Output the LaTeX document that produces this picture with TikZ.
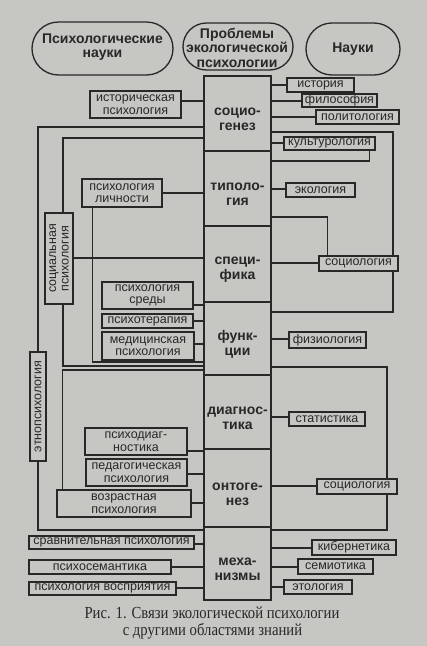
\documentclass[tikz,border=0pt]{standalone}
\usepackage{fontspec}
\setmainfont{Liberation Sans}
\newfontfamily\capfont{Liberation Serif}
\usetikzlibrary{shapes.misc}
\definecolor{paper}{RGB}{198,198,195}
\definecolor{ink}{RGB}{40,40,40}
\pgfdeclarelayer{bg}\pgfdeclarelayer{wires}
\pgfsetlayers{bg,wires,main}
\tikzset{
  box/.style={draw=ink,fill=paper,line width=1.1pt,inner sep=0pt,align=center,text=ink,
    font=\fontsize{12.5}{12.5}\selectfont},
  secbox/.style={draw=ink,fill=paper,line width=1.3pt,inner sep=0pt},
  sectext/.style={text=ink,align=center,font=\bfseries\fontsize{14}{15}\selectfont},
  stadium/.style={draw=ink,line width=1.3pt,rounded rectangle,inner sep=0pt,align=center,
    text=ink,font=\bfseries\fontsize{14}{14.5}\selectfont},
  stadtext/.style={inner sep=0pt,align=center,text=ink,font=\bfseries\fontsize{14}{14.5}\selectfont},
  wire/.style={draw=ink,line width=1.1pt},
  captext/.style={text=ink,inner sep=0pt,anchor=base,yscale=1.15,transform shape,
    font=\capfont\fontsize{14.7}{14.7}\selectfont},
}
\newcommand\bx[6]{\node[box,minimum width={#4pt-#2pt},minimum height={#5pt-#3pt}] (#1) at ({(#2+#4)/2},{(#3+#5)/2}) {#6};}
\newcommand\sect[4]{\node[secbox,minimum width=67pt,minimum height={#3pt-#2pt}] (#1) at (237.5,{(#2+#3)/2}) {};
  \node[sectext] (#1t) at ([yshift=-6pt]#1.center) {#4};}
\newcommand\lft[3]{\draw[wire] (#1.east |- 0,#3) -- (#2.west |- 0,#3);}
\newcommand\rgt[3]{\draw[wire] (#1.east |- 0,#3) -- (#2.west |- 0,#3);}
\begin{document}
\begin{tikzpicture}[x=1pt,y=-1pt]
\begin{pgfonlayer}{bg}
\fill[paper] (0,0) rectangle (427,646);
\end{pgfonlayer}
\useasboundingbox (0,0) rectangle (427,646);

% headers
\node[stadium,minimum width=141pt,minimum height=53pt] (hpsy) at (102.5,48.5) {};
\node[stadtext] (hpsyt) at (102.5,47) {Психологические\\науки};
\node[stadium,minimum width=110pt,minimum height=47pt] (hprob) at (238,46.5) {};
\node[stadtext] (hprobt) at (237,47.5) {Проблемы\\экологической\\психологии};
\node[stadium,minimum width=94pt,minimum height=52pt] (hsci) at (353,49) {};
\node[stadtext] (hscit) at (353,49) {Науки};

% central column
\sect{s1}{76}{151}{социо-\\генез}
\sect{s2}{151}{226}{типоло-\\гия}
\sect{s3}{226}{302}{специ-\\фика}
\sect{s4}{302}{375}{функ-\\ции}
\sect{s5}{375}{449}{диагнос-\\тика}
\sect{s6}{449}{527}{онтоге-\\нез}
\sect{s7}{527}{600}{меха-\\низмы}

% right boxes
\bx{istoria}{287}{78}{354}{92}{история}
\bx{filos}{302}{94}{377}{107}{философия}
\bx{polit}{316}{110}{399}{124}{политология}
\bx{kult}{284}{137}{375}{150}{культурология}
\bx{ekol}{286}{183}{355}{197}{экология}
\bx{soctwo}{319}{256}{398}{271}{социология}
\bx{fiziol}{289}{332}{366}{348}{физиология}
\bx{stat}{289}{412}{365}{426}{статистика}
\bx{socthree}{317}{479}{397}{494}{социология}
\bx{kib}{312}{540}{396}{555}{кибернетика}
\bx{semi}{298}{559}{373}{574}{семиотика}
\bx{etol}{284}{580}{352}{594}{этология}

% left boxes
\bx{hist}{90}{91}{181}{118}{историческая\\психология}
\bx{lich}{82}{179}{162}{207}{психология\\личности}
\bx{socps}{45}{213}{73}{304}{}
\node[rotate=90,align=center,text=ink,font=\fontsize{12.5}{12.5}\selectfont] (socpst) at (socps.center) {социальная\\психология};
\bx{ethno}{30}{352}{46}{461}{}
\node[rotate=90,text=ink,font=\fontsize{12.5}{12.5}\selectfont] (ethnot) at (ethno.center) {этнопсихология};
\bx{sreda}{102}{282}{193}{309}{психология\\среды}
\bx{psyter}{102}{314}{193}{328}{психотерапия}
\bx{medic}{102}{332}{194}{360}{медицинская\\психология}
\bx{psdiag}{85}{428}{187}{455}{психодиаг-\\ностика}
\bx{pedag}{86}{459}{187}{486}{педагогическая\\психология}
\bx{vozr}{57}{490}{191}{517}{возрастная\\психология}
\bx{srav}{29}{536}{194}{549}{сравнительная психология}
\bx{psem}{29}{560}{171}{574}{психосемантика}
\bx{vospr}{29}{582}{176}{595}{психология восприятия}

\begin{pgfonlayer}{wires}
% right connectors
\rgt{s1}{istoria}{85}
\rgt{s1}{filos}{101}
\rgt{s1}{polit}{117}
\rgt{s1}{kult}{143}
\draw[wire] ([xshift=-6pt]kult.south east) |- (s2.east |- 0,161);
\rgt{s2}{ekol}{189}
\draw[wire] (s2.east |- 0,217) -| ([xshift=9pt]soctwo.north west);
\rgt{s3}{soctwo}{263}
\draw[wire] (s1.east |- 0,132) -- (393,132) -- (393,312) -- (s4.east |- 0,312);
\rgt{s4}{fiziol}{339}
\draw[wire] (s4.east |- 0,367) -- (387,367) -- (387,530) -- (s7.east |- 0,530);
\rgt{s5}{stat}{417}
\rgt{s6}{socthree}{486}
\rgt{s7}{kib}{548}
\rgt{s7}{semi}{567}
\rgt{s7}{etol}{587}
% left connectors
\lft{hist}{s1}{101}
\draw[wire] (s1.west |- 0,127) -| (ethno.north);
\draw[wire] (ethno.south) |- (s7.west |- 0,530);
\draw[wire] (s1.west |- 0,138) -| ([xshift=4pt]socps.north);
\draw[wire] ([xshift=4pt]socps.south) |- (s4.west |- 0,366);
\lft{socps}{s3}{258}
\lft{lich}{s2}{193}
\draw[wire] ([xshift=11pt]lich.south west) |- (s4.west |- 0,362);
\lft{sreda}{s4}{305}
\lft{psyter}{s4}{321}
\lft{medic}{s4}{344}
\draw[wire] (s4.west |- 0,370) -| ([xshift=6pt]vozr.north west);
\lft{psdiag}{s6}{451}
\lft{pedag}{s6}{474}
\lft{vozr}{s6}{503}
\lft{srav}{s7}{544}
\lft{psem}{s7}{567}
\lft{vospr}{s7}{588}
\end{pgfonlayer}

% caption
\node[captext] (capa) at (212,618) {Рис. 1. Связи экологической психологии};
\node[captext] (capb) at (212.5,635) {с другими областями знаний};
\end{tikzpicture}
\end{document}
